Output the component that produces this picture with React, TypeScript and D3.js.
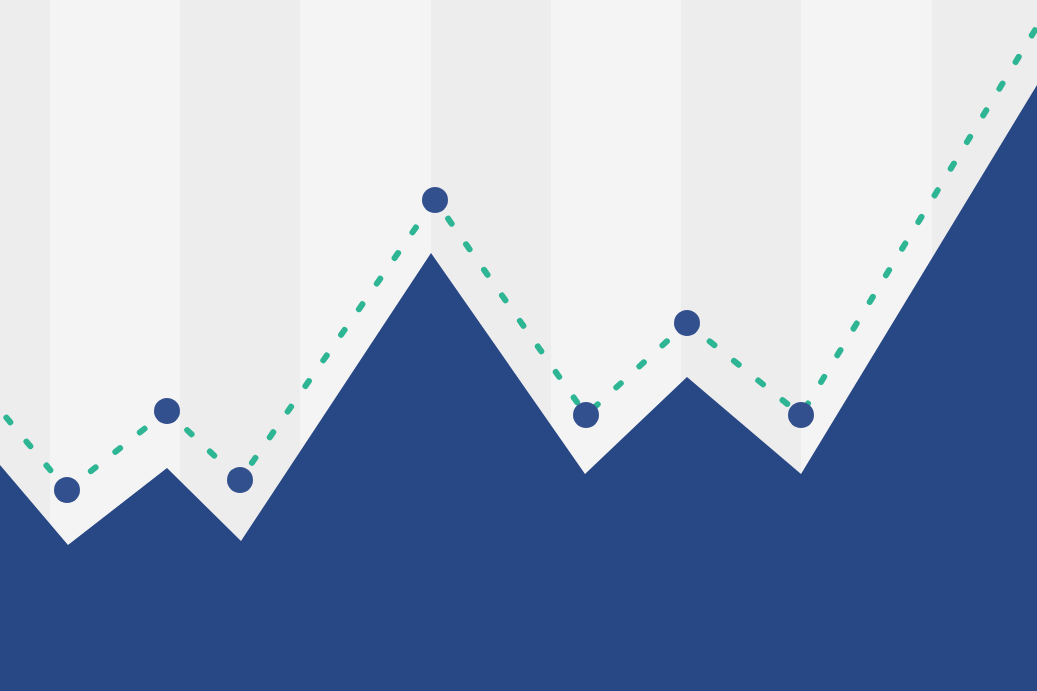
import React from "react";
import * as d3 from "d3";

const W = 1037;
const H = 691;

// stripe boundaries (x units)
const stripeEdges = [0, 50, 180, 300, 431, 551, 681, 801, 932, 1037];

// area series
const areaX = [0, 68, 167, 241, 431, 585, 687, 801, 1037];
const areaV = [226, 146, 223, 150, 438, 217, 314, 217, 606];

// dotted line series
const lineX = [-10, 67, 167, 240, 435, 586, 687, 801, 1060];
const lineV = [293, 201, 280, 211, 491, 276, 368, 276, 702];

// dots shown on the line (indices)
const dotIdx = [1, 2, 3, 4, 5, 6, 7];

export default function App() {
  const x = d3.scaleLinear().domain([0, 1037]).range([0, W]);
  const y = d3.scaleLinear().domain([0, 691]).range([H, 0]);

  const areaData = areaX.map((v, i) => [v, areaV[i]] as [number, number]);
  const lineData = lineX.map((v, i) => [v, lineV[i]] as [number, number]);

  const area = d3
    .area<[number, number]>()
    .x((d) => x(d[0]))
    .y0(H)
    .y1((d) => y(d[1]))(areaData) as string;

  const line = d3
    .line<[number, number]>()
    .x((d) => x(d[0]))
    .y((d) => y(d[1]))(lineData) as string;

  return (
    <svg
      width={W}
      height={H}
      style={{ position: "fixed", left: 0, top: 0, display: "block" }}
    >
      {stripeEdges.slice(0, -1).map((e, i) => (
        <rect
          key={i}
          x={x(e)}
          y={0}
          width={x(stripeEdges[i + 1]) - x(e)}
          height={H}
          fill={i % 2 === 0 ? "#ededed" : "#f4f4f4"}
        />
      ))}
      <path d={area} fill="#284785" />
      <path
        d={line}
        fill="none"
        stroke="#2db594"
        strokeWidth={6}
        strokeLinecap="round"
        strokeDasharray="6 25.2"
        strokeDashoffset={5.6}
      />
      {dotIdx.map((i) => (
        <circle
          key={i}
          cx={x(lineX[i])}
          cy={y(lineV[i])}
          r={13}
          fill="#33508e"
        />
      ))}
    </svg>
  );
}
